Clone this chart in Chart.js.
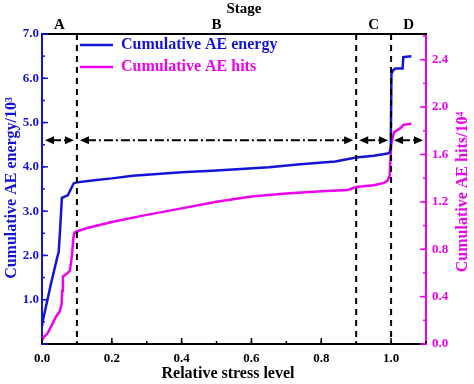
<!DOCTYPE html>
<html><head><meta charset="utf-8">
<script src="https://cdn.jsdelivr.net/npm/chart.js@4/dist/chart.umd.min.js"></script>
<style>html,body{margin:0;padding:0;background:#fff}#wrap{width:474px;height:384px}</style>
</head><body><div id="wrap"><canvas id="c" width="474" height="384"></canvas></div>
<script>
// ---- data ----
const energyX = [0, 0.003, 0.007, 0.026, 0.045, 0.048, 0.052, 0.057, 0.065, 0.074, 0.082, 0.091, 0.1, 0.15, 0.2, 0.26, 0.4, 0.5, 0.57, 0.65, 0.74, 0.84, 0.9, 0.95, 0.99, 0.996, 0.999, 1.001, 1.006, 1.012, 1.033, 1.035, 1.058];
const energyY = [0.4, 0.55, 0.69, 1.37, 2.0, 2.09, 2.6, 3.3, 3.33, 3.36, 3.49, 3.63, 3.65, 3.7, 3.74, 3.8, 3.88, 3.92, 3.95, 3.99, 4.06, 4.12, 4.21, 4.25, 4.3, 4.33, 4.45, 6.1, 6.18, 6.22, 6.22, 6.48, 6.5];
const hitsX = [0, 0.005, 0.016, 0.03, 0.04, 0.05, 0.056, 0.058, 0.06, 0.074, 0.08, 0.086, 0.09, 0.093, 0.1, 0.13, 0.2, 0.3, 0.4, 0.5, 0.6, 0.7, 0.8, 0.876, 0.9, 0.95, 0.98, 0.99, 0.996, 1.0, 1.005, 1.009, 1.02, 1.03, 1.035, 1.058];
const hitsY = [0.03, 0.06, 0.09, 0.17, 0.23, 0.27, 0.33, 0.45, 0.57, 0.6, 0.62, 0.75, 0.9, 0.94, 0.95, 0.98, 1.03, 1.09, 1.145, 1.2, 1.245, 1.27, 1.29, 1.30, 1.325, 1.34, 1.36, 1.38, 1.42, 1.68, 1.75, 1.79, 1.81, 1.83, 1.85, 1.86];
const seriesNames = ["Cumulative AE energy", "Cumulative AE hits"];
const stageBounds = [0, 0.1, 0.9, 1.0, 1.1];
const stageNames = ["A", "B", "C", "D"];
const dividers = [0.1, 0.9, 1.0];
const arrowLevel = 4.6;
const xTicks = [0, 0.2, 0.4, 0.6, 0.8, 1.0];
const leftTicks = [1, 2, 3, 4, 5, 6, 7];
const rightTicks = [0, 0.4, 0.8, 1.2, 1.6, 2.0, 2.4];
const xTitle = "Relative stress level";
const leftTitle = "Cumulative AE energy/10\u00B3";
const rightTitle = "Cumulative AE hits/10\u2074";
const chartTitle = "Stage";

const BLUE = "#1414d8", MAG = "#ee00ee";
const FF = "'Liberation Serif','Times New Roman',serif";

function pts(xs, ys){ return xs.map((x,i)=>({x:x, y:ys[i]})); }

const deco = {
  id: 'deco',
  afterDraw(chart){
    const ctx = chart.ctx, ca = chart.chartArea;
    const sx = chart.scales.x, sl = chart.scales.y, sr = chart.scales.y1;
    ctx.save();
    // top border
    ctx.strokeStyle = '#000'; ctx.lineWidth = 2;
    ctx.beginPath(); ctx.moveTo(ca.left-1, ca.top); ctx.lineTo(ca.right+1, ca.top); ctx.stroke();
    // inward ticks
    function tickSet(scale, step, len, color, axis){
      ctx.strokeStyle = color; ctx.lineWidth = 1.5;
      const n = Math.round((scale.max - scale.min)/step);
      for(let i=0;i<=n;i++){
        const v = scale.min + i*step;
        if (v > scale.max + 1e-9) break;
        const p = scale.getPixelForValue(v);
        ctx.beginPath();
        if(axis==='x'){ ctx.moveTo(p, ca.bottom); ctx.lineTo(p, ca.bottom-len); }
        else if(axis==='l'){ ctx.moveTo(ca.left, p); ctx.lineTo(ca.left+len, p); }
        else { ctx.moveTo(ca.right, p); ctx.lineTo(ca.right-len, p); }
        ctx.stroke();
      }
    }
    tickSet(sx, 0.2, 6, '#000', 'x'); tickSet(sx, 0.1, 3, '#000', 'x');
    tickSet(sl, 1, 6, BLUE, 'l'); tickSet(sl, 0.5, 3, BLUE, 'l');
    tickSet(sr, 0.4, 6, MAG, 'r'); tickSet(sr, 0.2, 3, MAG, 'r');
    // dashed dividers
    ctx.strokeStyle = '#000'; ctx.lineWidth = 2; ctx.setLineDash([6,5]);
    dividers.forEach(d=>{ const p = sx.getPixelForValue(d);
      ctx.beginPath(); ctx.moveTo(p, ca.top); ctx.lineTo(p, ca.bottom); ctx.stroke(); });
    // dash-dot arrows
    const ay = sl.getPixelForValue(arrowLevel);
    for(let i=0;i<stageNames.length;i++){
      const a = sx.getPixelForValue(stageBounds[i]) + 3, b = sx.getPixelForValue(stageBounds[i+1]) - 3;
      ctx.setLineDash([9,3,2,3]); ctx.lineWidth = 2; ctx.strokeStyle = '#000';
      ctx.beginPath(); ctx.moveTo(a+7, ay); ctx.lineTo(b-7, ay); ctx.stroke();
      ctx.setLineDash([]); ctx.fillStyle = '#000';
      ctx.beginPath(); ctx.moveTo(a, ay); ctx.lineTo(a+9, ay-4); ctx.lineTo(a+9, ay+4); ctx.closePath(); ctx.fill();
      ctx.beginPath(); ctx.moveTo(b, ay); ctx.lineTo(b-9, ay-4); ctx.lineTo(b-9, ay+4); ctx.closePath(); ctx.fill();
    }
    ctx.setLineDash([]);
    // stage letters and title
    ctx.fillStyle = '#000'; ctx.textAlign = 'center'; ctx.textBaseline = 'middle';
    ctx.font = 'bold 15px ' + FF;
    for(let i=0;i<stageNames.length;i++){
      const m = (stageBounds[i]+stageBounds[i+1])/2;
      ctx.fillText(stageNames[i], sx.getPixelForValue(m), 25);
    }
    ctx.fillText(chartTitle, 244, 9);
    // axis titles
    ctx.font = 'bold 16px ' + FF;
    ctx.fillText(xTitle, 228, 374);
    ctx.save(); ctx.translate(12, 188); ctx.rotate(-Math.PI/2);
    ctx.fillStyle = BLUE; ctx.fillText(leftTitle, 0, 0); ctx.restore();
    ctx.save(); ctx.translate(463, 192); ctx.rotate(-Math.PI/2);
    ctx.fillStyle = MAG; ctx.fillText(rightTitle, 0, 0); ctx.restore();
    // legend
    const cols = [BLUE, MAG];
    ctx.font = 'bold 16px ' + FF; ctx.textAlign = 'left';
    seriesNames.forEach((nm,i)=>{
      const y = 45 + i*22;
      ctx.strokeStyle = cols[i]; ctx.lineWidth = 2.5;
      ctx.beginPath(); ctx.moveTo(80, y); ctx.lineTo(113, y); ctx.stroke();
      ctx.fillStyle = cols[i]; ctx.fillText(nm, 121, y);
    });
    ctx.restore();
  }
};

new Chart(document.getElementById('c'), {
  type: 'line',
  data: { datasets: [
    { label: seriesNames[0], data: pts(energyX, energyY), yAxisID: 'y', borderColor: BLUE, borderWidth: 2.5, pointRadius: 0, tension: 0, fill: false },
    { label: seriesNames[1], data: pts(hitsX, hitsY), yAxisID: 'y1', borderColor: MAG, borderWidth: 2.5, pointRadius: 0, tension: 0, fill: false }
  ]},
  options: {
    responsive: false, animation: false, devicePixelRatio: 1,
    layout: { padding: { top: 34, left: 0, right: 0, bottom: 0 } },
    plugins: { legend: { display: false }, tooltip: { enabled: false } },
    scales: {
      x: { type: 'linear', min: 0, max: 1.1,
        afterFit(s){ s.height = 40; },
        afterBuildTicks(s){ s.ticks = xTicks.map(v=>({value:v})); },
        grid: { display: false, drawTicks: false },
        border: { display: true, color: '#000', width: 2 },
        ticks: { padding: 7, color: '#000', font: { family: FF, weight: 'bold', size: 13 }, callback: v => Number(v).toFixed(1) } },
      y: { type: 'linear', position: 'left', min: 0, max: 7,
        afterFit(s){ s.width = 42; },
        afterBuildTicks(s){ s.ticks = leftTicks.map(v=>({value:v})); },
        grid: { display: false, drawTicks: false },
        border: { display: true, color: BLUE, width: 2 },
        ticks: { padding: 3, color: BLUE, font: { family: FF, weight: 'bold', size: 13 }, callback: v => Number(v).toFixed(1) } },
      y1: { type: 'linear', position: 'right', min: 0, max: 2.617,
        afterFit(s){ s.width = 48; },
        afterBuildTicks(s){ s.ticks = rightTicks.map(v=>({value:v})); },
        grid: { display: false, drawTicks: false },
        border: { display: true, color: MAG, width: 2 },
        ticks: { padding: 6, color: MAG, font: { family: FF, weight: 'bold', size: 13 }, callback: v => Number(v).toFixed(1) } }
    }
  },
  plugins: [deco]
});
</script></body></html>
